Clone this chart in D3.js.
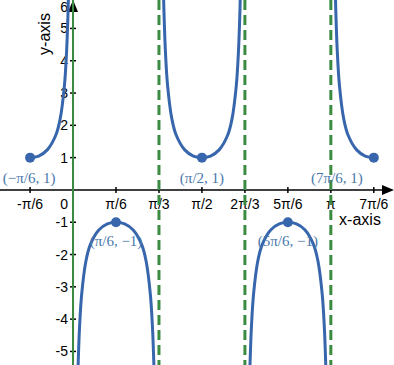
<!DOCTYPE html>
<html>
<head>
<meta charset="utf-8">
<script src="https://cdn.jsdelivr.net/npm/d3@7"></script>
<style>
  body { margin: 0; background: #fff; }
  svg { display: block; }
</style>
</head>
<body>
<script>
/* global d3 */
const width = 394;
const height = 365;

// x values are in units of pi/6
const xTicks = [-1, 0, 1, 2, 3, 4, 5, 6, 7];
const xTickLabels = ['-π/6', '0', 'π/6', 'π/3', 'π/2', '2π/3', '5π/6', 'π', '7π/6'];
const yTicks = [-5, -4, -3, -2, -1, 1, 2, 3, 4, 5, 6];
const asymptotes = [0, 2, 4, 6];

// curve branches, [x, y]
const branch1 = [[-1, 1], [-0.8, 1.05], [-0.6, 1.24], [-0.4, 1.7], [-0.3, 2.2], [-0.2, 3.24], [-0.15, 4.29], [-0.12, 5.35], [-0.1, 6.39], [-0.09, 7.1]];
const branch2 = [[0.09, -7.1], [0.1, -6.39], [0.12, -5.35], [0.15, -4.29], [0.2, -3.24], [0.3, -2.2], [0.4, -1.7], [0.6, -1.24], [0.8, -1.05], [1, -1],
  [1.2, -1.05], [1.4, -1.24], [1.6, -1.7], [1.7, -2.2], [1.8, -3.24], [1.85, -4.29], [1.88, -5.35], [1.9, -6.39], [1.91, -7.1]];
const branch3 = [[2.09, 7.1], [2.1, 6.39], [2.12, 5.35], [2.15, 4.29], [2.2, 3.24], [2.3, 2.2], [2.4, 1.7], [2.6, 1.24], [2.8, 1.05], [3, 1],
  [3.2, 1.05], [3.4, 1.24], [3.6, 1.7], [3.7, 2.2], [3.8, 3.24], [3.85, 4.29], [3.88, 5.35], [3.9, 6.39], [3.91, 7.1]];
const branch4 = [[4.09, -7.1], [4.1, -6.39], [4.12, -5.35], [4.15, -4.29], [4.2, -3.24], [4.3, -2.2], [4.4, -1.7], [4.6, -1.24], [4.8, -1.05], [5, -1],
  [5.2, -1.05], [5.4, -1.24], [5.6, -1.7], [5.7, -2.2], [5.8, -3.24], [5.85, -4.29], [5.88, -5.35], [5.9, -6.39], [5.91, -7.1]];
const branch5 = [[6.09, 7.1], [6.1, 6.39], [6.12, 5.35], [6.15, 4.29], [6.2, 3.24], [6.3, 2.2], [6.4, 1.7], [6.6, 1.24], [6.8, 1.05], [7, 1]];

const points = [[-1, 1], [1, -1], [3, 1], [5, -1], [7, 1]];
const pointLabels = ['(−π/6, 1)', '(π/6, −1)', '(π/2, 1)', '(5π/6, −1)', '(7π/6, 1)'];

const blue = '#3766ad';
const green = '#3b8c42';
const labelBlue = '#4a78aa';

const x = d3.scaleLinear().domain([-1.7, 7.47]).range([0, width]);
const y = d3.scaleLinear().domain([-5.42, 5.88]).range([height, 0]);

const svg = d3.select('body').append('svg')
  .attr('width', width)
  .attr('height', height);

svg.append('defs').append('clipPath').attr('id', 'clip')
  .append('rect').attr('width', width).attr('height', height);

// axes
svg.append('line')
  .attr('x1', 0).attr('x2', width - 6)
  .attr('y1', y(0)).attr('y2', y(0))
  .attr('stroke', '#000').attr('stroke-width', 1.5);
svg.append('path')
  .attr('d', `M${width},${y(0)} L${width - 12},${y(0) - 5} L${width - 12},${y(0) + 5} Z`)
  .attr('fill', '#000');

svg.append('line')
  .attr('x1', x(0)).attr('x2', x(0))
  .attr('y1', height).attr('y2', 6)
  .attr('stroke', '#000').attr('stroke-width', 1.5);
svg.append('path')
  .attr('d', `M${x(0)},0 L${x(0) - 5},12 L${x(0) + 5},12 Z`)
  .attr('fill', '#000');

// ticks
svg.append('g').selectAll('line')
  .data(xTicks.filter(d => d !== 0))
  .enter().append('line')
  .attr('x1', d => x(d)).attr('x2', d => x(d))
  .attr('y1', y(0) - 3).attr('y2', y(0) + 3)
  .attr('stroke', '#000').attr('stroke-width', 1.5);

svg.append('g').selectAll('text')
  .data(xTicks)
  .enter().append('text')
  .attr('x', d => (d === 0 ? x(d) - 9 : x(d)))
  .attr('y', y(0) + 19)
  .attr('text-anchor', 'middle')
  .style('font-family', 'Liberation Sans, Arial, sans-serif')
  .style('font-size', '14px')
  .text((d, i) => xTickLabels[i]);

svg.append('g').selectAll('line')
  .data(yTicks)
  .enter().append('line')
  .attr('x1', x(0) - 3).attr('x2', x(0) + 3)
  .attr('y1', d => y(d)).attr('y2', d => y(d))
  .attr('stroke', '#000').attr('stroke-width', 1.5);

svg.append('g').selectAll('text')
  .data(yTicks)
  .enter().append('text')
  .attr('x', x(0) - 5)
  .attr('y', d => Math.max(y(d) + 5, 12))
  .attr('text-anchor', 'end')
  .style('font-family', 'Liberation Sans, Arial, sans-serif')
  .style('font-size', '14px')
  .text(d => d);

// axis titles
svg.append('text')
  .attr('transform', `translate(50,34) rotate(-90)`)
  .attr('text-anchor', 'middle')
  .style('font-family', 'Liberation Sans, Arial, sans-serif')
  .style('font-size', '16px')
  .text('y-axis');

svg.append('text')
  .attr('x', 360)
  .attr('y', 225)
  .attr('text-anchor', 'middle')
  .style('font-family', 'Liberation Sans, Arial, sans-serif')
  .style('font-size', '16px')
  .text('x-axis');

// asymptotes
svg.append('g').selectAll('line')
  .data(asymptotes)
  .enter().append('line')
  .attr('x1', d => x(d)).attr('x2', d => x(d))
  .attr('y1', 0).attr('y2', height)
  .attr('stroke', green)
  .attr('stroke-width', d => (d === 0 ? 2 : 3))
  .attr('stroke-dasharray', d => (d === 0 ? null : '10,5'));

// curve
const line = d3.line()
  .x(d => x(d[0]))
  .y(d => y(d[1]))
  .curve(d3.curveCatmullRom);

svg.append('g')
  .attr('clip-path', 'url(#clip)')
  .selectAll('path')
  .data([branch1, branch2, branch3, branch4, branch5])
  .enter().append('path')
  .attr('d', line)
  .attr('fill', 'none')
  .attr('stroke', blue)
  .attr('stroke-width', 3);

// points
svg.append('g').selectAll('circle')
  .data(points)
  .enter().append('circle')
  .attr('cx', d => x(d[0]))
  .attr('cy', d => y(d[1]))
  .attr('r', 5)
  .attr('fill', blue);

svg.append('g').selectAll('text')
  .data(points)
  .enter().append('text')
  .attr('x', d => x(d[0]) + (d[0] === -1 ? -1 : (d[0] === 7 ? -37 : 0)))
  .attr('y', d => (d[1] > 0 ? y(d[1]) + 25 : y(d[1]) + 24))
  .attr('text-anchor', 'middle')
  .style('font-family', 'Liberation Serif, Times New Roman, serif')
  .style('font-size', '15px')
  .style('fill', labelBlue)
  .text((d, i) => pointLabels[i]);
</script>
</body>
</html>
